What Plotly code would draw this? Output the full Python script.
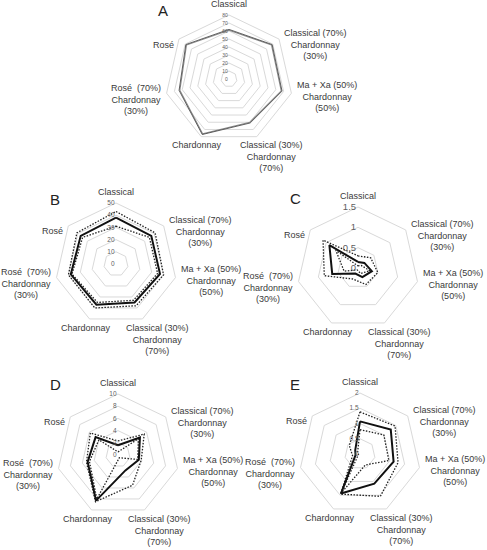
import math
import plotly.graph_objects as go

# categories, clockwise from the top
cats = ["Classical", "Classical (70%)<br>Chardonnay<br>(30%)", "Ma + Xa (50%)<br>Chardonnay<br>(50%)",
        "Classical (30%)<br>Chardonnay<br>(70%)", "Chardonnay", "Rosé  (70%)<br>Chardonnay<br>(30%)", "Rosé"]

# A
a_line1 = [61, 68, 67, 60, 76, 63, 68]
a_line2 = [62, 69, 68, 61, 77, 64, 69]
# B
b_mid = [38, 37, 37, 35, 37, 38, 37]
b_high = [43, 41, 40, 38, 40, 40, 41]
b_low = [31, 35, 35, 33, 35, 37, 35]
# C
c_mid = [0.15, 0.2, 0.35, 0.25, 0.15, 0.65, 0.9]
c_high = [0.3, 0.4, 0.5, 0.45, 0.3, 0.85, 1.1]
c_low = [0.05, 0.1, 0.3, 0.15, 0.05, 0.35, 0.7]
# D
d_mid = [1.6, 4.6, 3.5, 2.8, 8.3, 5.1, 4.7]
d_high = [2.3, 5.5, 3.9, 5.5, 8.5, 5.3, 5.8]
d_low = [0.5, 4.3, 3.3, 0.5, 8.0, 4.8, 4.0]
# E
e_mid = [1.07, 1.29, 1.13, 1.08, 1.44, 0.15, 0.2]
e_high = [1.38, 1.47, 1.28, 1.54, 1.46, 0.25, 0.45]
e_low = [0.8, 1.0, 0.97, 0.4, 1.42, 0.05, 0.1]

W, H = 487, 550
# panel centre / radius in pixels
panels = {
    "A": dict(sp="polar", cx=229, cy=79, R=64, rng=[0, 80], dtick=10, tsize=5),
    "B": dict(sp="polar2", cx=116, cy=264, R=61, rng=[0, 50], dtick=10, tsize=6.5),
    "C": dict(sp="polar3", cx=358, cy=268, R=61, rng=[0, 1.5], dtick=0.5, tsize=9.5),
    "D": dict(sp="polar4", cx=118, cy=455, R=61, rng=[0, 10], dtick=2, tsize=6.5),
    "E": dict(sp="polar5", cx=360, cy=454, R=61, rng=[0, 2], dtick=0.5, tsize=6.5),
}


def closed(v):
    return list(v) + [v[0]]


fig = go.Figure()
thetas = closed(cats)

fig.add_trace(go.Scatterpolar(r=closed(a_line1), theta=thetas, mode="lines", subplot="polar",
                              line=dict(color="#8c8c8c", width=1.1)))
fig.add_trace(go.Scatterpolar(r=closed(a_line2), theta=thetas, mode="lines", subplot="polar",
                              line=dict(color="#505050", width=0.9)))

sets = [("polar2", b_mid, b_high, b_low), ("polar3", c_mid, c_high, c_low),
        ("polar4", d_mid, d_high, d_low), ("polar5", e_mid, e_high, e_low)]
for sp, mid, high, low in sets:
    for v in (high, low):
        fig.add_trace(go.Scatterpolar(r=closed(v), theta=thetas, mode="lines", subplot=sp,
                                      line=dict(color="#222222", width=1.3, dash="1.5px,1.5px")))
    fig.add_trace(go.Scatterpolar(r=closed(mid), theta=thetas, mode="lines", subplot=sp,
                                  line=dict(color="#111111", width=2)))

# label anchors per category: xanchor, yanchor, xshift, yshift
anchors = [("center", "bottom", 0, 0), ("left", "middle", 0, -8), ("left", "middle", 0, -2),
           ("center", "top", 13, 2), ("center", "top", -2, 2), ("right", "middle", 0, -5),
           ("right", "middle", 0, -8)]

layout = {}
for letter, p in panels.items():
    cx, cy, R = p["cx"], p["cy"], p["R"]
    layout[p["sp"]] = dict(
        domain=dict(x=[(cx - R) / W, (cx + R) / W], y=[1 - (cy + R) / H, 1 - (cy - R) / H]),
        gridshape="linear",
        bgcolor="white",
        radialaxis=dict(range=p["rng"], dtick=p["dtick"], angle=90, tickangle=90, side="counterclockwise",
                        showline=False, ticks="", gridcolor="#d9d9d9", gridwidth=1,
                        tickfont=dict(size=p["tsize"], color="#606060")),
        angularaxis=dict(direction="clockwise", rotation=90, showgrid=False, ticks="",
                         showticklabels=False, showline=True, linecolor="#d9d9d9", linewidth=1),
    )
    # category labels outside the outer ring
    for i, name in enumerate(cats):
        ang = math.radians(90 - i * 360 / len(cats))
        d = R + 4
        x = cx + d * math.cos(ang)
        y = cy - d * math.sin(ang)
        xa, ya, xs, ys = anchors[i]
        fig.add_annotation(text=name, x=x / W, y=1 - y / H, xref="paper", yref="paper",
                           showarrow=False, xanchor=xa, yanchor=ya, xshift=xs, yshift=ys, align="center",
                           font=dict(size=9, color="#3a3a3a"))

fig.update_layout(
    width=W, height=H,
    margin=dict(l=0, r=0, t=0, b=0),
    paper_bgcolor="white",
    showlegend=False,
    font=dict(family="Liberation Sans, Arial, sans-serif"),
    **layout,
)

letters = [("A", 163, 10), ("B", 55, 199), ("C", 295, 198), ("D", 55, 384), ("E", 295, 384)]
for txt, x, y in letters:
    fig.add_annotation(text=txt, x=x / W, y=1 - y / H, xref="paper", yref="paper", showarrow=False,
                       xanchor="center", yanchor="middle", font=dict(size=15, color="#222222"))

# drop the page's default body margin so the figure sits at the window's corner
fig.write_html("out.html", config={"displayModeBar": False},
               post_script="document.body.style.margin='0';")
